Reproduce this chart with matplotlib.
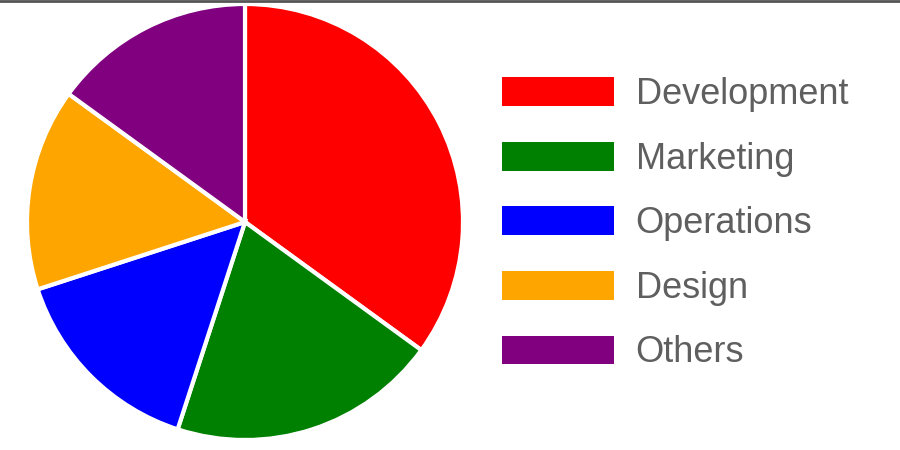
import matplotlib
matplotlib.use("Agg")
import matplotlib.pyplot as plt
from matplotlib.lines import Line2D

labels = ["Development", "Marketing", "Operations", "Design", "Others"]
shares = [35, 20, 15, 15, 15]
colors = ["#ff0000", "#008000", "#0000ff", "#ffa500", "#800080"]

plt.rcParams["font.family"] = ["Liberation Sans", "DejaVu Sans"]

fig = plt.figure(figsize=(9, 4.5), dpi=100)
ax = fig.add_axes([27 / 900, 10 / 450, 436 / 900, 436 / 450])
wedges, _ = ax.pie(shares, colors=colors, startangle=90, counterclock=False,
                   wedgeprops=dict(edgecolor="white", linewidth=3))
ax.set_xlim(-1, 1)
ax.set_ylim(-1, 1)
ax.set_aspect("equal")

leg = fig.legend(wedges, labels, loc="upper left",
                 bbox_to_anchor=(502 / 900, 1 - 77 / 450),
                 frameon=False, fontsize=26, handlelength=3.1,
                 handleheight=0.85, handletextpad=0.6, labelspacing=0.82,
                 borderaxespad=0, borderpad=0)
for t in leg.get_texts():
    t.set_color("#5f5f5f")
for h in leg.legend_handles:
    h.set_edgecolor("none")

fig.add_artist(Line2D([0, 1], [1 - 1 / 450, 1 - 1 / 450],
                      transform=fig.transFigure, color="#555555", lw=2))

fig.savefig("out.png", dpi=100)
